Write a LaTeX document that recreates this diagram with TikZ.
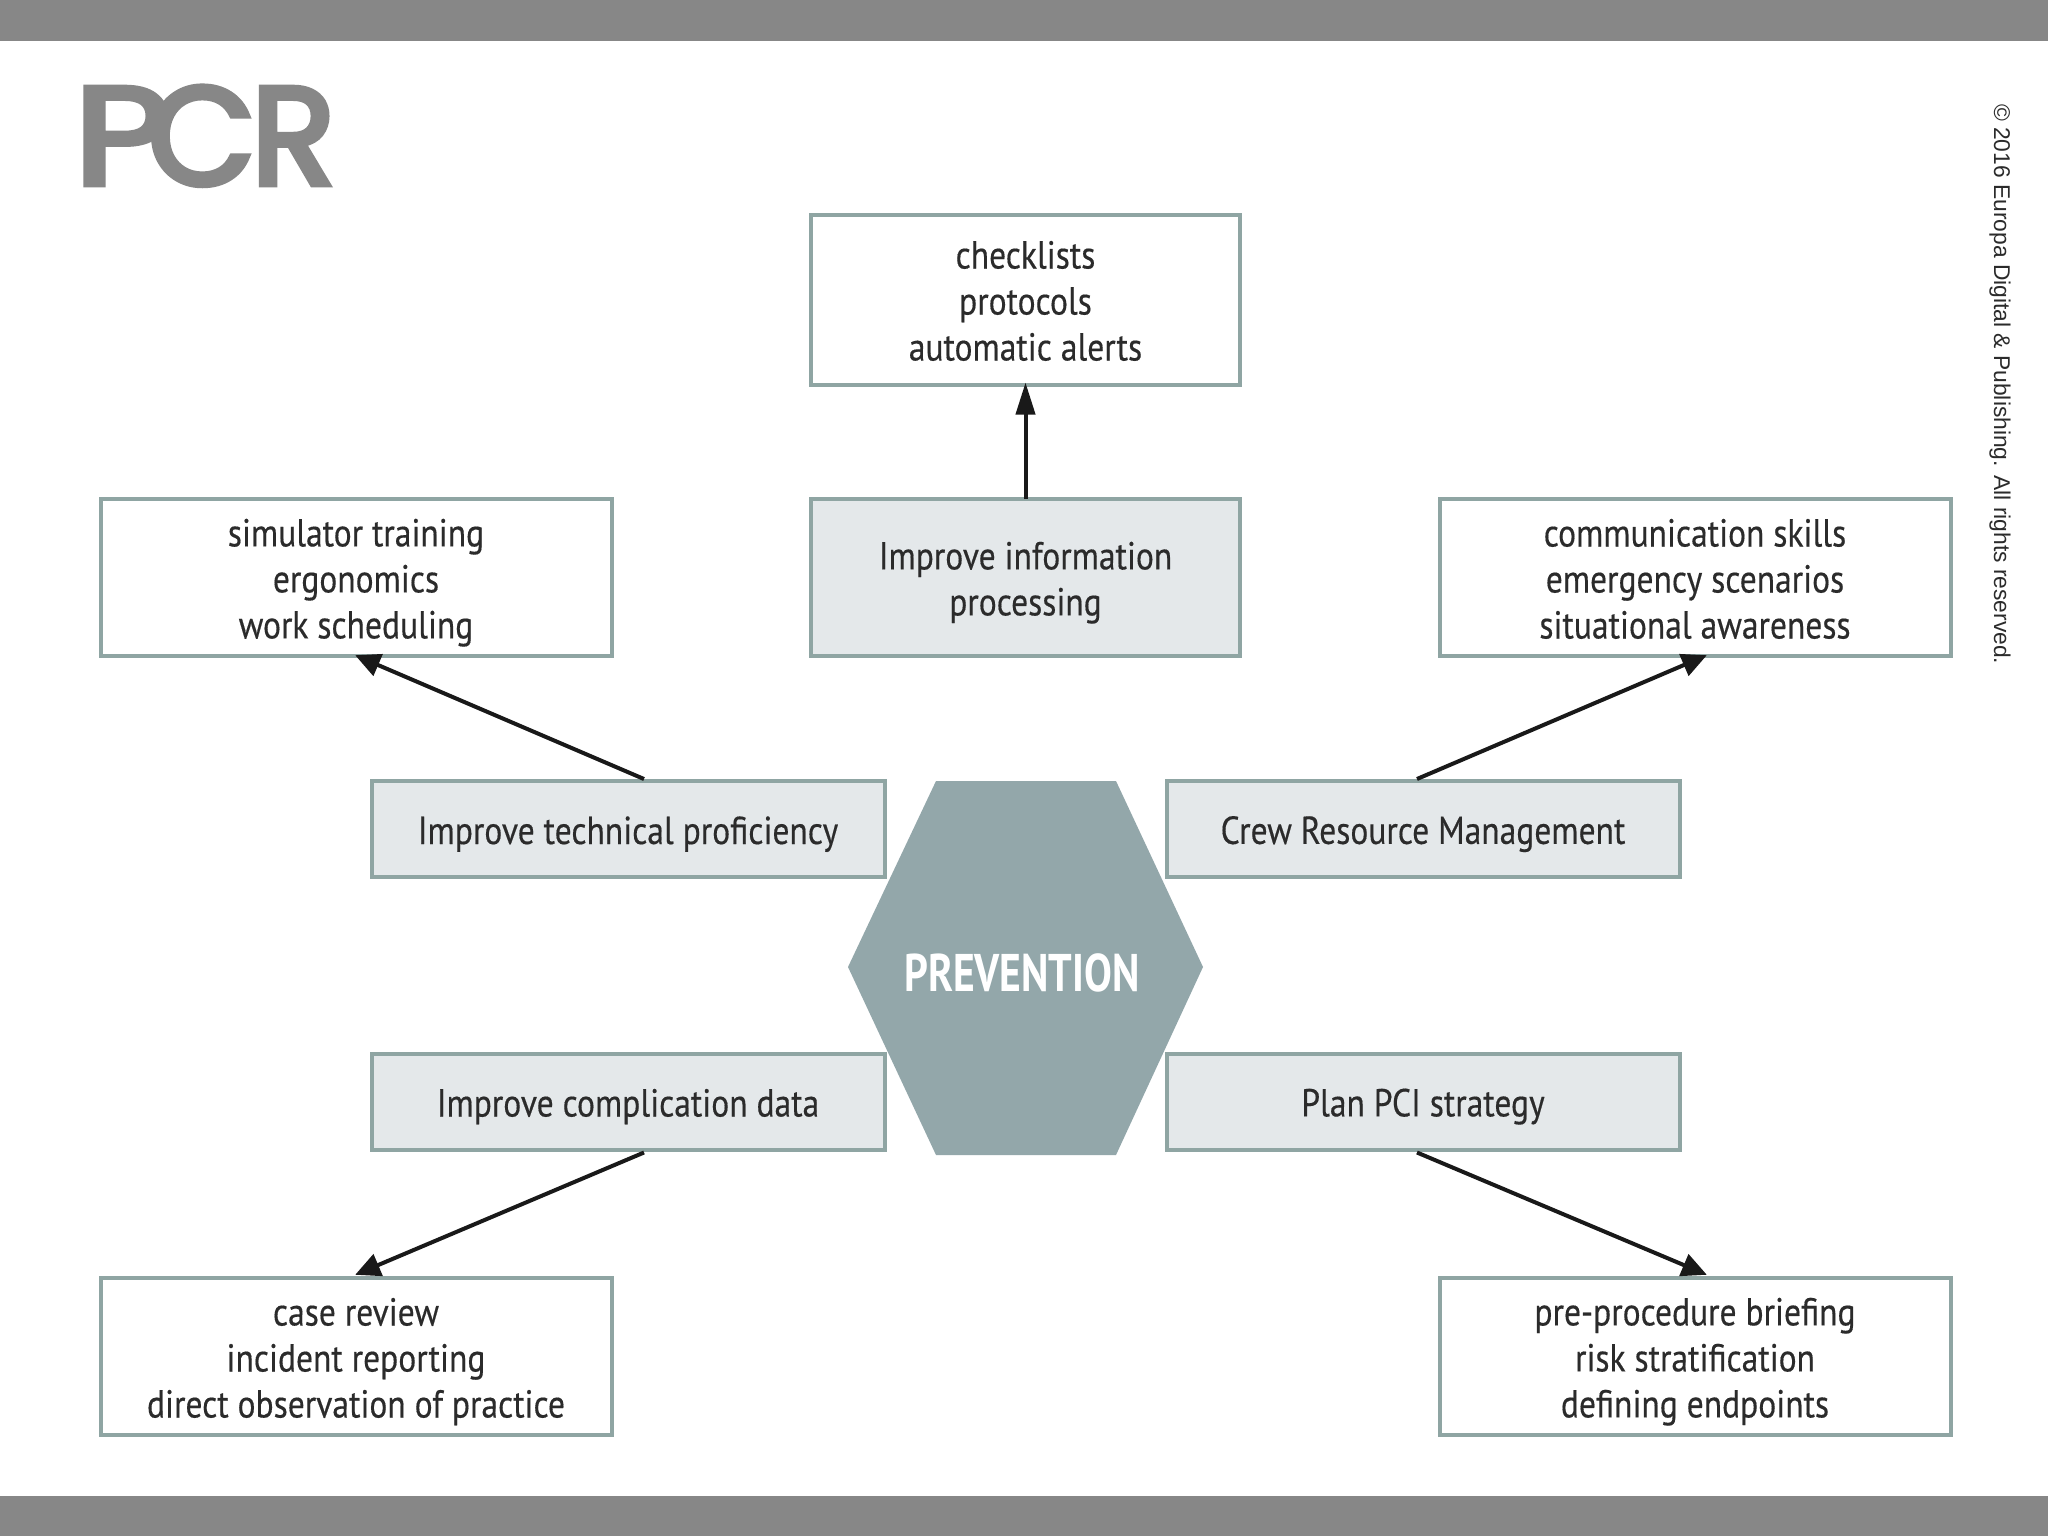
\documentclass[tikz,border=0pt]{standalone}
\usepackage{fontspec}
\setmainfont{PT Sans}[FakeStretch=0.86,FakeBold=0.35]
\newfontfamily\herofont{PT Sans Bold}[FakeStretch=0.785]
\newfontfamily\copyfont{Liberation Sans}
\newfontfamily\logofont{Poppins}[FakeBold=4.2]
\definecolor{barcol}{HTML}{878787}
\definecolor{edgecol}{HTML}{8FA5A3}
\definecolor{panelcol}{HTML}{E4E8EA}
\definecolor{hexcol}{HTML}{93A7AA}
\definecolor{inkcol}{HTML}{2B2B2B}
\usetikzlibrary{arrows.meta}
\newcommand{\lineprop}{\rule[-8pt]{0pt}{46pt}}
\newcommand{\lineup}{\rule{0pt}{38pt}}
\tikzset{
 whitebox/.style={draw=edgecol,line width=4pt,fill=white,outer sep=0pt,inner sep=0pt,align=center,text=inkcol,font=\fontsize{39}{46}\selectfont,execute at begin node=\lineprop,execute at end node=\lineprop},
 greybox/.style={whitebox,fill=panelcol},
 wide/.style={minimum width=511pt,minimum height=157pt},
 mid/.style={minimum width=429pt,minimum height=157pt},
 tall/.style={minimum width=429pt,minimum height=170pt},
 strip/.style={minimum width=513pt,minimum height=96pt},
 arr/.style={draw=black!90,line width=4pt,-{Triangle[length=25pt,width=23pt]},shorten >=-2pt},
 uparr/.style={draw=black!90,line width=4pt,-{Triangle[length=32pt,width=19pt]},shorten >=-2pt},
 logo/.style={text=barcol,inner sep=0pt,outer sep=0pt,font=\logofont\fontsize{139}{150}\selectfont}
}
\begin{document}
\begin{tikzpicture}[x=1pt,y=-1pt]
\useasboundingbox (0,0) rectangle (2048,1536);
\fill[white] (0,0) rectangle (2048,1536);
\fill[barcol] (0,0) rectangle (2048,41);
\fill[barcol] (0,1496) rectangle (2048,1536);
% logo
\node[logo,anchor=base west] (lp) at (74,184.5) {\scalebox{1.2}[1]{P}};
\node[logo,anchor=base west] (lc) at (148,184.5) {C};
\node[logo,anchor=base west] (lr) at (251,184.5) {R};
% copyright
\node[rotate=-90,anchor=west,inner sep=0pt,text=inkcol,font=\copyfont\fontsize{22.8}{24}\selectfont] (copy) at (2000,104) {© 2016 Europa Digital \& Publishing. All rights reserved.};
% hexagon
\fill[hexcol] (848,967) -- (936,781) -- (1116,781) -- (1203,967) -- (1116,1155) -- (936,1155) -- cycle;
\node[text=white,inner sep=0pt,font=\herofont\fontsize{53}{56}\selectfont] (hex) at (1022,973) {PREVENTION};
% boxes
\node[whitebox,tall] (top) at (1025.5,299.5) {\lineup checklists\\protocols\\automatic alerts};
\node[greybox,mid] (info) at (1025.5,577.5) {\lineup Improve information\\processing};
\node[whitebox,wide] (sim) at (356,577.5) {\lineup simulator training\\ergonomics\\work scheduling};
\node[whitebox,wide] (comm) at (1695,577.5) {\lineup communication skills\\emergency scenarios\\situational awareness};
\node[greybox,strip] (tech) at (628,829) {Improve technical proficiency};
\node[greybox,strip] (crew) at (1423,829) {Crew Resource Management};
\node[greybox,strip] (data) at (628,1101.5) {Improve complication data};
\node[greybox,strip] (plan) at (1423,1101.5) {Plan PCI strategy};
\node[whitebox,wide] (case) at (356,1356.5) {\lineup case review\\incident reporting\\direct observation of practice};
\node[whitebox,wide] (pre) at (1695,1356.5) {\lineup pre-procedure briefing\\risk stratification\\defining endpoints};
% connectors
\draw[uparr] (info.north) -- (top.south);
\draw[arr] ([xshift=16pt,yshift=2pt]tech.north) -- ([xshift=1pt]sim.south);
\draw[arr] ([xshift=-6pt,yshift=2pt]crew.north) -- ([xshift=10pt]comm.south);
\draw[arr] ([xshift=16pt,yshift=-3pt]data.south) -- ([xshift=1pt,yshift=4pt]case.north);
\draw[arr] ([xshift=-6pt,yshift=-3pt]plan.south) -- ([xshift=10pt,yshift=4pt]pre.north);
\end{tikzpicture}
\end{document}
